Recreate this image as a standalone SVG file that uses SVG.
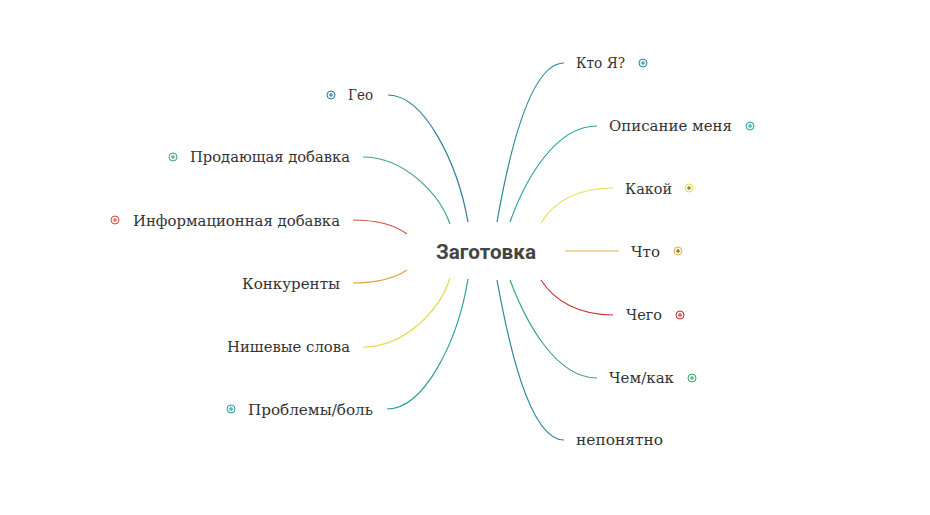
<svg xmlns="http://www.w3.org/2000/svg" width="930" height="515" viewBox="0 0 930 515">
<style>
.lbl{font-family:"DejaVu Serif","Liberation Serif",serif;font-size:15px;fill:#333}
.ctr{font-family:Roboto,"Liberation Sans",sans-serif;font-size:20px;font-weight:bold;fill:#444}
.c{fill:none;stroke-width:1.2}
.ic circle{stroke-width:1}
.ic path{stroke-width:1}
</style>
<rect width="930" height="515" fill="#fff"/>
<g id="connectors">
<path class="c" stroke="#2e7f9c" d="M388,95 C425,95 458,165 468,222"/>
<path class="c" stroke="#3aa97b" d="M363,157 C405,157 440,195 450,224"/>
<path class="c" stroke="#d9503f" d="M353,220 C375,220 395,225 407,234"/>
<path class="c" stroke="#e0a23a" d="M353,283 C375,283 395,278 407,270"/>
<path class="c" stroke="#e9d94a" d="M363,347 C405,347 440,310 450,278"/>
<path class="c" stroke="#27a2a0" d="M387,409 C425,409 458,340 468,279"/>
<path class="c" stroke="#2a8a9a" d="M497,222 C507,165 528,63 564,63"/>
<path class="c" stroke="#2aa3a3" d="M510,222 C525,180 555,126 597,126"/>
<path class="c" stroke="#e9e050" d="M541,223 C555,200 580,188 613,188"/>
<path class="c" stroke="#e8b24c" d="M565,251 L619,251"/>
<path class="c" stroke="#cc3333" d="M541,280 C555,302 580,315 613,315"/>
<path class="c" stroke="#3aaa72" d="M510,280 C525,320 555,378 597,378"/>
<path class="c" stroke="#2a86a0" d="M497,280 C507,335 528,440 564,440"/>
</g>
<g id="center"><text class="ctr" x="486" y="259" text-anchor="middle" textLength="100" lengthAdjust="spacingAndGlyphs">Заготовка</text></g>
<g id="n-geo"><text class="lbl" x="348" y="100" textLength="25" lengthAdjust="spacingAndGlyphs">Гео</text>
<g class="ic"><circle cx="331" cy="95" r="4" fill="#e8f2f7" stroke="#2e7f9c"/><path d="M329,95h4M331,93v4" stroke="#2e7f9c"/></g></g>
<g id="n-prod"><text class="lbl" x="190" y="162" textLength="160" lengthAdjust="spacingAndGlyphs">Продающая добавка</text>
<g class="ic"><circle cx="173" cy="157" r="4" fill="#e8f6ef" stroke="#3aa97b"/><path d="M171,157h4M173,155v4" stroke="#3aa97b"/></g></g>
<g id="n-info"><text class="lbl" x="133" y="226" textLength="207" lengthAdjust="spacingAndGlyphs">Информационная добавка</text>
<g class="ic"><circle cx="115" cy="220" r="4" fill="#fbecea" stroke="#d9503f"/><path d="M113,220h4M115,218v4" stroke="#d9503f"/></g></g>
<g id="n-konk"><text class="lbl" x="242" y="289" textLength="98" lengthAdjust="spacingAndGlyphs">Конкуренты</text></g>
<g id="n-nish"><text class="lbl" x="227" y="352" textLength="123" lengthAdjust="spacingAndGlyphs">Нишевые слова</text></g>
<g id="n-probl"><text class="lbl" x="248" y="415" textLength="125" lengthAdjust="spacingAndGlyphs">Проблемы/боль</text>
<g class="ic"><circle cx="231" cy="409" r="4" fill="#e6f5f5" stroke="#27a2a0"/><path d="M229,409h4M231,407v4" stroke="#27a2a0"/></g></g>
<g id="n-kto"><text class="lbl" x="576" y="68" textLength="49" lengthAdjust="spacingAndGlyphs">Кто Я?</text>
<g class="ic"><circle cx="643" cy="63" r="4" fill="#e6f3f5" stroke="#2a8a9a"/><path d="M641,63h4M643,61v4" stroke="#2a8a9a"/></g></g>
<g id="n-opis"><text class="lbl" x="609" y="131" textLength="123" lengthAdjust="spacingAndGlyphs">Описание меня</text>
<g class="ic"><circle cx="750" cy="126" r="4" fill="#e6f5f5" stroke="#2aa3a3"/><path d="M748,126h4M750,124v4" stroke="#2aa3a3"/></g></g>
<g id="n-kakoy"><text class="lbl" x="625" y="194" textLength="47" lengthAdjust="spacingAndGlyphs">Какой</text>
<g class="ic"><circle cx="689" cy="188" r="4" fill="#fbf9e3" stroke="#e9e050"/><path d="M687,188h4M689,186v4" stroke="#6b6530"/></g></g>
<g id="n-chto"><text class="lbl" x="631" y="257" textLength="29" lengthAdjust="spacingAndGlyphs">Что</text>
<g class="ic"><circle cx="678" cy="251" r="4" fill="#fcf4e6" stroke="#e8b24c"/><path d="M676,251h4M678,249v4" stroke="#6b5530"/></g></g>
<g id="n-chego"><text class="lbl" x="626" y="320" textLength="36" lengthAdjust="spacingAndGlyphs">Чего</text>
<g class="ic"><circle cx="680" cy="315" r="4" fill="#fae9e9" stroke="#cc3333"/><path d="M678,315h4M680,313v4" stroke="#cc3333"/></g></g>
<g id="n-chem"><text class="lbl" x="609" y="383" textLength="65" lengthAdjust="spacingAndGlyphs">Чем/как</text>
<g class="ic"><circle cx="692" cy="378" r="4" fill="#e8f6ee" stroke="#3aaa72"/><path d="M690,378h4M692,376v4" stroke="#3aaa72"/></g></g>
<g id="n-nepon"><text class="lbl" x="576" y="445" textLength="87" lengthAdjust="spacingAndGlyphs">непонятно</text></g>
</svg>
